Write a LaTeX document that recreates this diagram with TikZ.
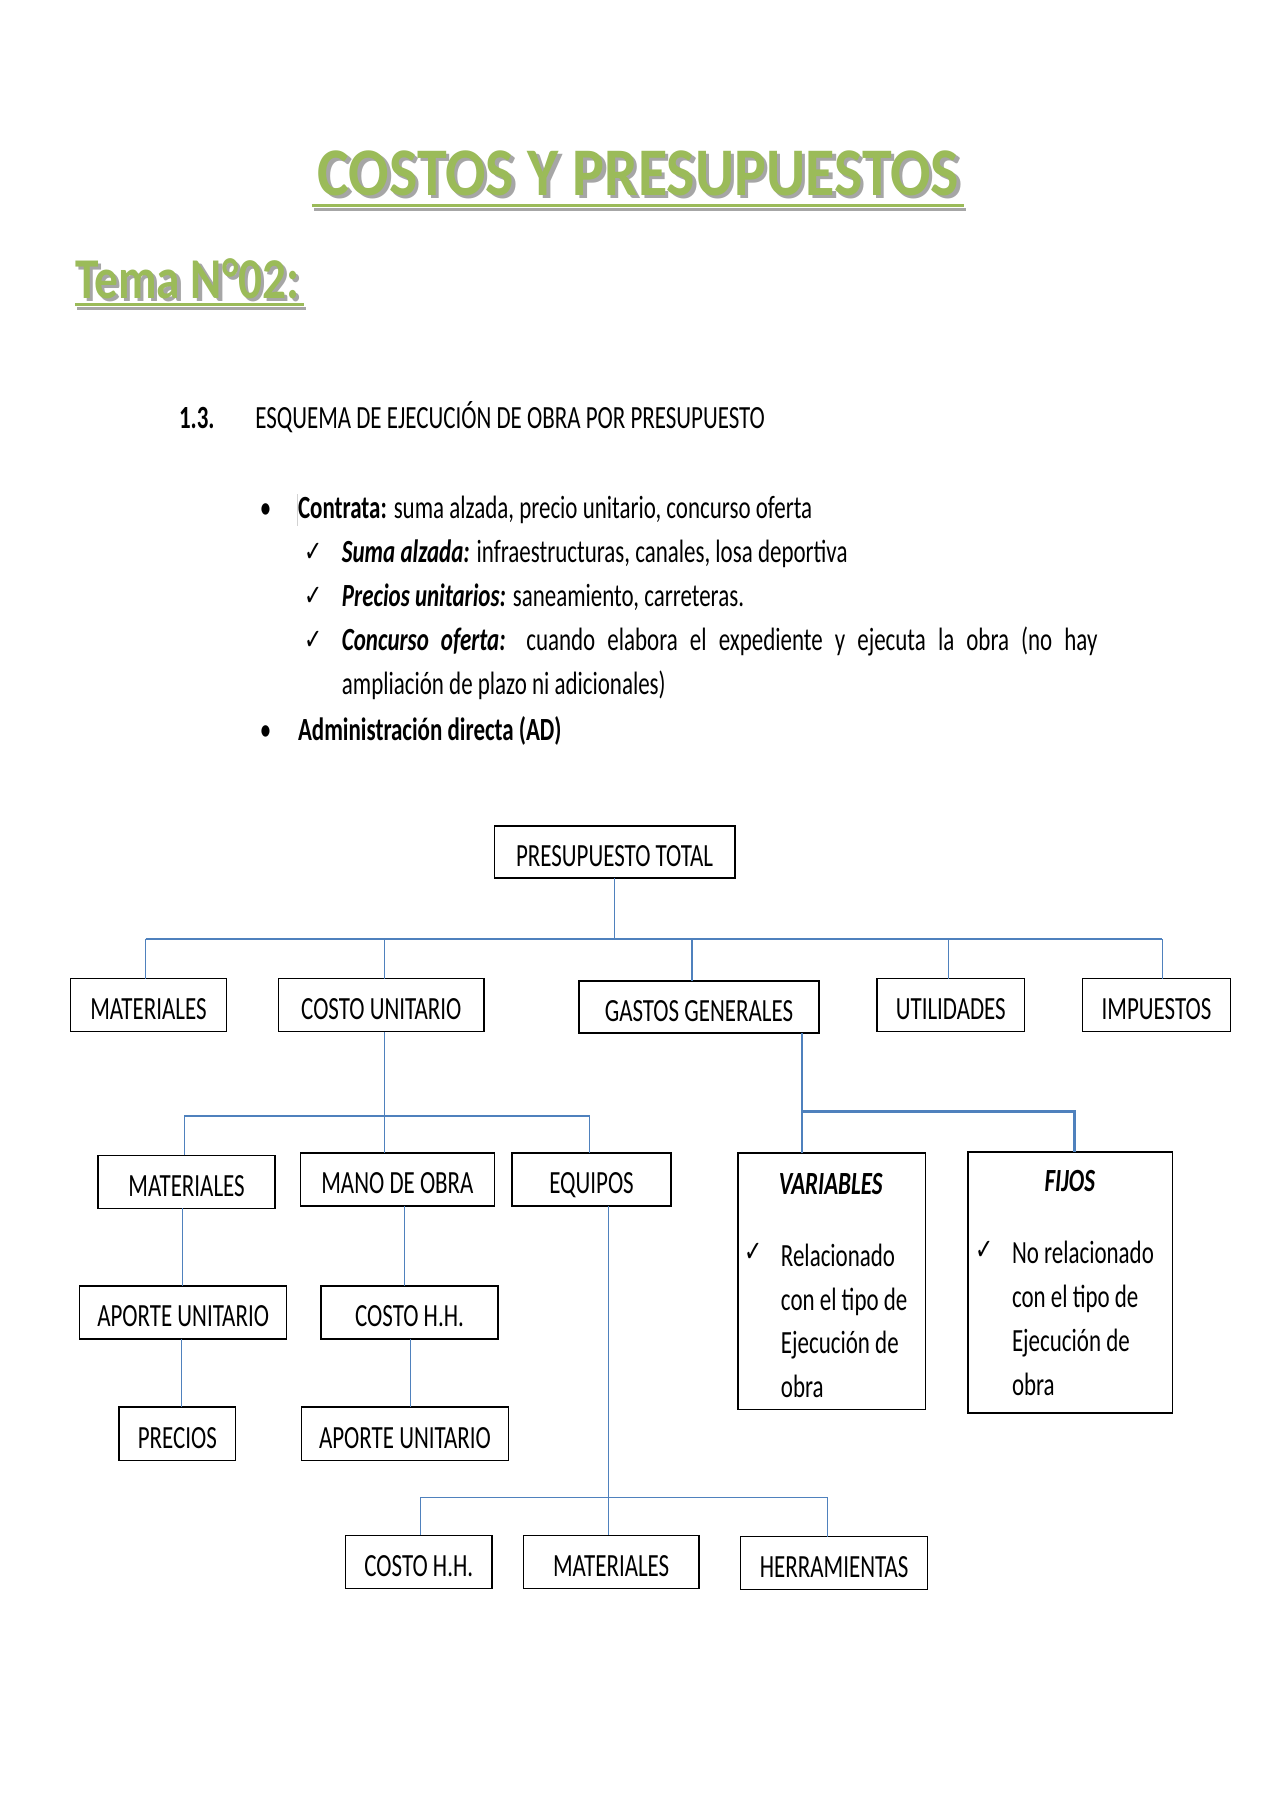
\documentclass[tikz,border=0pt]{standalone}
\usepackage{fontspec}
\setmainfont{Carlito}[FakeStretch=0.71]
\newfontfamily\titlefont{Carlito}[FakeStretch=0.88]
\newfontfamily\temafont{Carlito}[FakeStretch=0.82]
\newfontfamily\symfont{DejaVu Sans}[FakeStretch=0.75]
\definecolor{tgreen}{HTML}{9BBB59}
\definecolor{lblue}{HTML}{4F81BD}
\definecolor{shad}{HTML}{A6A6A6}
\newcommand\bsz{\fontsize{28}{34}\selectfont}
\begin{document}
\begin{tikzpicture}[x=1pt,y=-1pt,
  every node/.style={inner sep=0pt, outer sep=0pt, font=\bsz},
  box/.style={draw=black, line width=1.3pt, align=center, text height=25pt, text depth=0pt},
  conn/.style={draw=lblue, line width=1pt},
  bus/.style={draw=lblue, line width=2pt},
  ttl/.style={font=\titlefont\bfseries\fontsize{59}{70}\selectfont},
  tema/.style={font=\temafont\bfseries\fontsize{50}{60}\selectfont},
  chk/.style={font=\symfont\fontsize{25}{28}\selectfont, anchor=base west},
  txt/.style={anchor=base west}
]
\useasboundingbox[fill=white] (0,0) rectangle (1108,1567.6);

% ---------- titles ----------
\node[ttl, text=shad, anchor=base] (titlesh) at (555.5,172) {COSTOS Y PRESUPUESTOS};
\node[ttl, text=tgreen, anchor=base] (title) at (552.5,169) {COSTOS Y PRESUPUESTOS};
\draw[shad, line width=2.5pt] (272,181) -- (836,181);
\draw[tgreen, line width=2.5pt] (270,177.5) -- (834,177.5);

\node[tema, text=shad, anchor=base west] (temash) at (68,261) {Tema N°02:};
\node[tema, text=tgreen, anchor=base west] (tema) at (65,258) {Tema N°02:};
\draw[shad, line width=2.5pt] (67,267) -- (265,267);
\draw[tgreen, line width=2.5pt] (65,263.5) -- (263,263.5);

% ---------- text ----------
\node[txt] (sec) at (155,371) {\textbf{1.3.}};
\node[txt] (sect) at (221,371) {ESQUEMA DE EJECUCIÓN DE OBRA POR PRESUPUESTO};

\draw[gray!35, line width=0.6pt] (257,428) -- (257,455);
\node[txt] (b1) at (225,449) {\textbullet};
\node[txt] (l1) at (258,449) {\textbf{Contrata:} suma alzada, precio unitario, concurso oferta};
\node[chk] (c1) at (264,486) {✓};
\node[txt] (l2) at (296,487) {\textbf{\textit{Suma alzada:}} infraestructuras, canales, losa deportiva};
\node[chk] (c2) at (264,524) {✓};
\node[txt] (l3) at (296,525) {\textbf{\textit{Precios unitarios:}} saneamiento, carreteras.};
\node[chk] (c3) at (264,562) {✓};
\node[txt] (l4) at (296,563) {\makebox[654pt][s]{\textbf{\textit{Concurso oferta:}} cuando elabora el expediente y ejecuta la obra (no hay}};
\node[txt] (l5) at (296,601) {ampliación de plazo ni adicionales)};
\node[txt] (b2) at (225,641) {\textbullet};
\node[txt] (l6) at (258,641) {\textbf{Administración directa (AD)}};

% ---------- diagram boxes ----------
\node[box, minimum width=208pt, minimum height=45pt] (pt) at (532,737.5) {PRESUPUESTO TOTAL};

\node[box, minimum width=135pt, minimum height=46pt] (r1m) at (128.5,870) {MATERIALES};
\node[box, minimum width=178pt, minimum height=46pt] (r1c) at (330,870) {COSTO UNITARIO};
\node[box, minimum width=208pt, minimum height=45pt] (r1g) at (605,871.5) {GASTOS GENERALES};
\node[box, minimum width=128pt, minimum height=46pt] (r1u) at (823,870) {UTILIDADES};
\node[box, minimum width=128pt, minimum height=46pt] (r1i) at (1001,870) {IMPUESTOS};

\node[box, minimum width=153pt, minimum height=46pt] (r2m) at (161.5,1023) {MATERIALES};
\node[box, minimum width=168pt, minimum height=46pt] (r2o) at (344,1021) {MANO DE OBRA};
\node[box, minimum width=138pt, minimum height=46pt] (r2e) at (512,1021) {EQUIPOS};

\node[box, minimum width=162pt, minimum height=222pt] (var) at (720,1109) {};
\node[box, minimum width=177pt, minimum height=226pt] (fij) at (926.5,1110) {};

\node[box, minimum width=179pt, minimum height=46pt] (r3a) at (158.5,1136) {APORTE UNITARIO};
\node[box, minimum width=153pt, minimum height=46pt] (r3c) at (354.5,1136) {COSTO H.H.};

\node[box, minimum width=101pt, minimum height=46pt] (r4p) at (153.5,1241) {PRECIOS};
\node[box, minimum width=179pt, minimum height=46pt] (r4a) at (350.5,1241) {APORTE UNITARIO};

\node[box, minimum width=127pt, minimum height=46pt] (r5c) at (362.5,1352) {COSTO H.H.};
\node[box, minimum width=152pt, minimum height=46pt] (r5m) at (529,1352) {MATERIALES};
\node[box, minimum width=162pt, minimum height=46pt] (r5h) at (722,1353) {HERRAMIENTAS};

% contents of VARIABLES / FIJOS
\node[anchor=base, font=\bsz\bfseries\itshape] (vart) at (719,1034) {VARIABLES};
\node[chk] (vck) at (644,1092) {✓};
\node[txt] (v1) at (676,1096) {Relacionado};
\node[txt] (v2) at (676,1134) {con el tipo de};
\node[txt] (v3) at (676,1172) {Ejecución de};
\node[txt] (v4) at (676,1210) {obra};

\node[anchor=base, font=\bsz\bfseries\itshape] (fijt) at (926,1031) {FIJOS};
\node[chk] (fck) at (844,1090) {✓};
\node[txt] (f1) at (876,1094) {No relacionado};
\node[txt] (f2) at (876,1132) {con el tipo de};
\node[txt] (f3) at (876,1170) {Ejecución de};
\node[txt] (f4) at (876,1208) {obra};

% ---------- connectors ----------
\coordinate (bb) at (532,813);
\draw[conn] (pt.south) -- (bb);
\draw[conn] ([xshift=-2.5pt]r1m.north) |- coordinate[pos=.5] (d1) (bb);
\draw[conn] ([xshift=3pt]r1c.north) |- (bb);
\draw[conn] ([xshift=-6pt]r1g.north) |- (bb);
\draw[conn] ([xshift=-2pt]r1u.north) |- (bb);
\draw[conn] ([xshift=5pt]r1i.north) |- coordinate[pos=.5] (d5) (bb);
\draw[bus] (d1) -- (d5);

\coordinate (cb) at (333,966);
\draw[conn] ([xshift=3pt]r1c.south) -- ([xshift=-11pt]r2o.north);
\draw[conn] ([xshift=-1.5pt]r2m.north) |- (cb) -| ([xshift=-2pt]r2e.north);

\coordinate (gb) at (694,962);
\draw[bus] ([xshift=89pt]r1g.south) -- ([xshift=-26pt]var.north);
\draw[bus] (gb) -| ([xshift=3.5pt]fij.north);

\draw[conn] ([xshift=-3.5pt]r2m.south) -- ([xshift=-0.5pt]r3a.north);
\draw[conn] ([xshift=6pt]r2o.south) -- ([xshift=-4.5pt]r3c.north);
\draw[conn] ([xshift=0.5pt]r3c.south) -- ([xshift=4.5pt]r4a.north);
\draw[conn] ([xshift=-1.5pt]r3a.south) -- ([xshift=3.5pt]r4p.north);

\coordinate (eb) at (527,1296);
\draw[conn] ([xshift=15pt]r2e.south) -- ([xshift=-2pt]r5m.north);
\draw[conn] ([xshift=1.5pt]r5c.north) |- (eb) -| ([xshift=-6pt]r5h.north);
\end{tikzpicture}
\end{document}
